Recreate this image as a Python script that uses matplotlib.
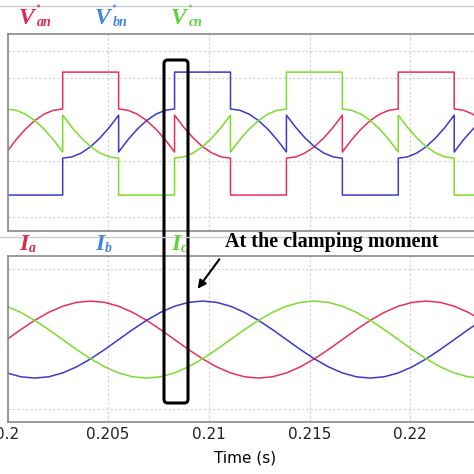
import matplotlib
matplotlib.use("Agg")
import matplotlib.pyplot as plt
import numpy as np
from matplotlib.patches import FancyBboxPatch

# one period of the clamped reference voltage (deg, p.u.)
v_theta = [-30, 30, 30, 40, 50, 60, 70, 80, 90, 90, 100, 110, 120, 130, 140, 150,
           150, 210, 210, 220, 230, 240, 250, 260, 270, 270, 280, 290, 300, 310, 320, 330, 330]
v_level = [1.0, 1.0, 0.40, 0.379, 0.316, 0.212, 0.072, -0.10, -0.30, 0.30, 0.10, -0.072,
           -0.212, -0.316, -0.379, -0.40, -1.0, -1.0, -0.40, -0.379, -0.316, -0.212, -0.072,
           0.10, 0.30, -0.30, -0.10, 0.072, 0.212, 0.316, 0.379, 0.40, 1.0]

# one period of the phase current (deg, p.u.)
i_theta = [0, 15, 30, 45, 60, 75, 90, 105, 120, 135, 150, 165, 180,
           195, 210, 225, 240, 255, 270, 285, 300, 315, 330, 345, 360]
i_level = [1.0, 0.966, 0.866, 0.707, 0.5, 0.259, 0.0, -0.259, -0.5, -0.707, -0.866, -0.966, -1.0,
           -0.966, -0.866, -0.707, -0.5, -0.259, 0.0, 0.259, 0.5, 0.707, 0.866, 0.966, 1.0]

period = 1 / 60
t_peak_a = 0.20413           # centre of phase-a clamp / current peak
phase_shift = [0, 120, 240]  # a, b, c lag in degrees

line_colors = ["#e5305c", "#3a3acb", "#7cdc2c"]
label_colors = ["#e0284f", "#3f86e0", "#5fd33a"]
v_subs = ["an", "bn", "cn"]
i_subs = ["a", "b", "c"]

xticks = [0.2, 0.205, 0.21, 0.215, 0.22]
xtick_labels = ["0.2", "0.205", "0.21", "0.215", "0.22"]


def tiled(theta, level, shift):
    ts, vs = [], []
    for k in range(-2, 3):
        for th, v in zip(theta, level):
            ts.append(t_peak_a + (th + shift + 360 * k) / 360 * period)
            vs.append(v)
    return np.array(ts), np.array(vs)


W = H = 474
fig = plt.figure(figsize=(4.74, 4.74), dpi=100)
xl = (0.20007, 0.22364)
left, width = 7.5 / W, (483.5 - 7.5) / W

ax_v = fig.add_axes([left, 1 - 231 / H, width, (231 - 34) / H])
ax_i = fig.add_axes([left, 1 - 422 / H, width, (422 - 256) / H])

for ax in (ax_v, ax_i):
    ax.set_xlim(*xl)
    ax.set_xticks(xticks)
    ax.tick_params(length=0, labelsize=11, labelcolor="#222222")
    for s in ax.spines.values():
        s.set_color("#8a8a8a")
        s.set_linewidth(1.2)
    ax.set_yticklabels([])
    ax.grid(True, color="#cfcfcf", linestyle=(0, (2, 2)), linewidth=0.8)

for shift, c in zip(phase_shift, line_colors):
    t, v = tiled(v_theta, v_level, shift)
    ax_v.plot(t, v, color=c, lw=1.1)
    t, i = tiled(i_theta, i_level, shift)
    ax_i.plot(t, i, color=c, lw=1.1)

ax_v.set_ylim(-1.585, 1.62)
ax_v.set_yticks([1.35, 0.90, -0.45, -1.35])
ax_v.set_xticklabels([])
ax_i.set_ylim(-2.14, 2.17)
ax_i.set_yticks([1.83, -1.8])
ax_i.set_xticklabels(xtick_labels)
ax_i.set_xlabel("Time (s)", fontsize=11, labelpad=6)

lbl = dict(family="Liberation Serif", style="italic", weight="bold")
for k in range(3):
    x0 = (19 + 76 * k) / W
    c = label_colors[k]
    fig.text(x0, 1 - 18 / H, "V", color=c, fontsize=17, va="center", **lbl)
    fig.text(x0 + 16 / W, 1 - 8 / H, "*", color=c, fontsize=6, va="center", **lbl)
    fig.text(x0 + 18 / W, 1 - 23 / H, v_subs[k], color=c, fontsize=10, va="center", **lbl)
    fig.text(x0, 1 - 244 / H, "I", color=c, fontsize=17, va="center", **lbl)
    fig.text(x0 + 10 / W, 1 - 249 / H, i_subs[k], color=c, fontsize=10, va="center", **lbl)

fig.text(225 / W, 1 - 242 / H, "At the clamping moment", fontsize=14.5,
         family="Liberation Serif", weight="bold", va="center")
fig.add_artist(matplotlib.patches.FancyArrowPatch(
    (221 / W, 1 - 257 / H), (196 / W, 1 - 291 / H), transform=fig.transFigure,
    arrowstyle="-|>", mutation_scale=12, color="black", lw=1.5))

fig.add_artist(FancyBboxPatch((164 / W, 1 - 403 / H), 24 / W, 343 / H,
                              boxstyle="round,pad=0,rounding_size=0.008",
                              transform=fig.transFigure, fill=False,
                              edgecolor="black", lw=2.2))

fig.add_artist(plt.Line2D([0, 1], [1 - 6 / H] * 2, color="#cccccc", lw=1, transform=fig.transFigure))
fig.add_artist(plt.Line2D([0, 1], [1 - 237 / H] * 2, color="#cccccc", lw=1, transform=fig.transFigure))

fig.savefig("out.png", dpi=100)
